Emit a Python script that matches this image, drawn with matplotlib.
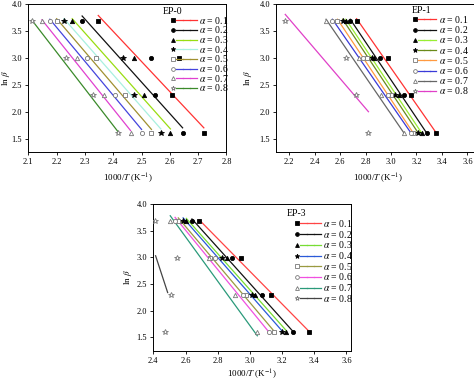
import matplotlib
matplotlib.use("Agg")
import matplotlib.pyplot as plt
from matplotlib.lines import Line2D
from matplotlib.legend_handler import HandlerTuple

plt.rcParams["font.family"] = ["Liberation Serif", "DejaVu Serif"]
plt.rcParams["mathtext.fontset"] = "stix"

alphas = [0.1, 0.2, 0.3, 0.4, 0.5, 0.6, 0.7, 0.8]
ln_beta = [3.689, 2.996, 2.303, 1.609]

# x = 1000/T at each heating rate (rows follow ln_beta), one list per alpha
ep0_x = [
    [2.347, 2.632, 2.609, 2.720],
    [2.290, 2.532, 2.549, 2.645],
    [2.255, 2.474, 2.509, 2.602],
    [2.226, 2.433, 2.474, 2.568],
    [2.200, 2.338, 2.441, 2.535],
    [2.176, 2.306, 2.406, 2.500],
    [2.148, 2.273, 2.368, 2.461],
    [2.113, 2.232, 2.329, 2.418],
]
ep0_line_x = [(2.347, 2.720), (2.290, 2.645), (2.255, 2.602), (2.226, 2.568),
              (2.200, 2.535), (2.176, 2.500), (2.148, 2.461), (2.113, 2.418)]
ep0_line_y = [(3.79, 1.70), (3.78, 1.70), (3.73, 1.68), (3.73, 1.68),
              (3.73, 1.67), (3.72, 1.67), (3.71, 1.65), (3.70, 1.62)]

ep1_x = [
    [2.730, 2.975, 3.160, 3.354],
    [2.680, 2.910, 3.100, 3.281],
    [2.645, 2.870, 3.060, 3.242],
    [2.620, 2.850, 3.035, 3.215],
    [2.580, 2.810, 3.000, 3.176],
    [2.540, 2.780, 2.975, 3.158],
    [2.490, 2.750, 2.925, 3.103],
    [2.170, 2.648, 2.724, 2.823],
]
ep1_line_x = [(2.730, 3.354), (2.680, 3.281), (2.645, 3.242), (2.620, 3.215),
              (2.580, 3.176), (2.540, 3.158), (2.490, 3.103), (2.170, 2.823)]
ep1_line_y = [(3.73, 1.61), (3.72, 1.60), (3.72, 1.60), (3.72, 1.60),
              (3.72, 1.60), (3.72, 1.60), (3.72, 1.60), (3.81, 2.00)]

ep3_x = [
    [2.686, 2.945, 3.130, 3.365],
    [2.640, 2.887, 3.075, 3.265],
    [2.605, 2.855, 3.030, 3.225],
    [2.585, 2.824, 3.010, 3.200],
    [2.555, 2.755, 2.975, 3.149],
    [2.535, 2.783, 2.960, 3.118],
    [2.505, 2.745, 2.905, 3.046],
    [2.410, 2.545, 2.510, 2.472],
]
ep3_line_x = [(2.686, 3.365), (2.640, 3.265), (2.605, 3.225), (2.585, 3.200),
              (2.555, 3.149), (2.535, 3.118), (2.505, 3.046), (2.414, 2.489)]
ep3_line_y = [(3.70, 1.62), (3.72, 1.62), (3.73, 1.63), (3.74, 1.62),
              (3.74, 1.62), (3.75, 1.60), (3.78, 1.53), (3.03, 2.34)]

ep0_colors = ["#ff3333", "#111111", "#99dd11", "#a8f0e0",
              "#a09030", "#4444dd", "#e040d0", "#3a8a2a"]
ep1_colors = ["#ff3333", "#111111", "#99ee33", "#6a8a1a",
              "#ff9a40", "#3a3ad8", "#666666", "#e040c8"]
ep3_colors = ["#ff4444", "#111111", "#77dd33", "#2a5ad8",
              "#9a9a40", "#f050e0", "#2a9a7a", "#444444"]

MARKERS = [("s", True), ("o", True), ("^", True), ("*", True),
           ("s", False), ("o", False), ("^", False), ("*", False)]
MSIZE = [2.7, 3.0, 3.1, 3.8, 2.7, 3.0, 3.1, 3.8]


def draw_panel(ax, name, xs, line_x, line_y, colors, xlim, xticks,
               leg_anchor, lead_blank, spacing, ylab_x, xlab_y):
    handles = []
    for i, a in enumerate(alphas):
        mk, filled = MARKERS[i]
        face = "black" if filled else "white"
        edge = "black" if filled else "#777777"
        ax.plot(line_x[i], line_y[i], color=colors[i], lw=0.9, zorder=2)
        ax.plot(xs[i], ln_beta, linestyle="none", marker=mk, ms=MSIZE[i],
                mfc=face, mec=edge, mew=0.6, zorder=3)
        m = Line2D([], [], linestyle="none", marker=mk, ms=MSIZE[i] * 0.9,
                   mfc=face, mec=edge, mew=0.6)
        ln = Line2D([], [], color=colors[i], lw=0.9)
        blank = Line2D([], [], linestyle="none")
        if lead_blank:
            handles.append((blank, m, ln, ln, ln))
        else:
            handles.append((m, ln, ln, ln))
    labels = [rf"$\alpha$ = {a}" for a in alphas]
    nd = 5 if lead_blank else 4
    hl = 3.5 if lead_blank else 2.5
    ax.legend(handles, labels, title=name, loc="upper left",
              bbox_to_anchor=leg_anchor, frameon=False, fontsize=7,
              title_fontsize=7, alignment="left",
              handler_map={tuple: HandlerTuple(ndivide=nd, pad=0)},
              handlelength=hl, handletextpad=0.25, labelspacing=spacing,
              borderpad=0, borderaxespad=0)

    ax.set_xlim(*xlim)
    ax.set_ylim(1.25, 4.0)
    ax.set_xticks(xticks)
    ax.set_yticks([1.5, 2.0, 2.5, 3.0, 3.5, 4.0])
    ax.set_xticklabels([f"{t:.1f}" for t in xticks])
    ax.tick_params(direction="out", length=2.5, width=0.6, labelsize=6, pad=2)
    for s in ax.spines.values():
        s.set_linewidth(0.7)
    ax.set_xlabel(r"1000/$T$ (K$^{-1}$)", fontsize=6.5)
    ax.set_ylabel(r"ln $\beta$", fontsize=6.5)
    ax.yaxis.set_label_coords(ylab_x, 0.5)
    ax.xaxis.set_label_coords(0.5, xlab_y)


fig = plt.figure(figsize=(4.74, 3.81), dpi=100)

ax0 = fig.add_axes([0.0598, 0.601, 0.418, 0.388])
draw_panel(ax0, "EP-0", ep0_x, ep0_line_x, ep0_line_y, ep0_colors,
           (2.1, 2.8), [2.1, 2.2, 2.3, 2.4, 2.5, 2.6, 2.7, 2.8],
           (0.679, 0.98), True, -0.14, -0.08, -0.13)

ax1 = fig.add_axes([0.583, 0.601, 0.43, 0.388])
draw_panel(ax1, "EP-1", ep1_x, ep1_line_x, ep1_line_y, ep1_colors,
           (2.1, 3.7), [2.2, 2.4, 2.6, 2.8, 3.0, 3.2, 3.4, 3.6],
           (0.666, 0.99), False, -0.08, -0.11, -0.13)

ax3 = fig.add_axes([0.3235, 0.0795, 0.416, 0.385])
draw_panel(ax3, "EP-3", ep3_x, ep3_line_x, ep3_line_y, ep3_colors,
           (2.4, 3.625), [2.4, 2.6, 2.8, 3.0, 3.2, 3.4, 3.6],
           (0.676, 0.965), True, -0.03, -0.1, -0.11)

fig.savefig("out.png", dpi=100)
